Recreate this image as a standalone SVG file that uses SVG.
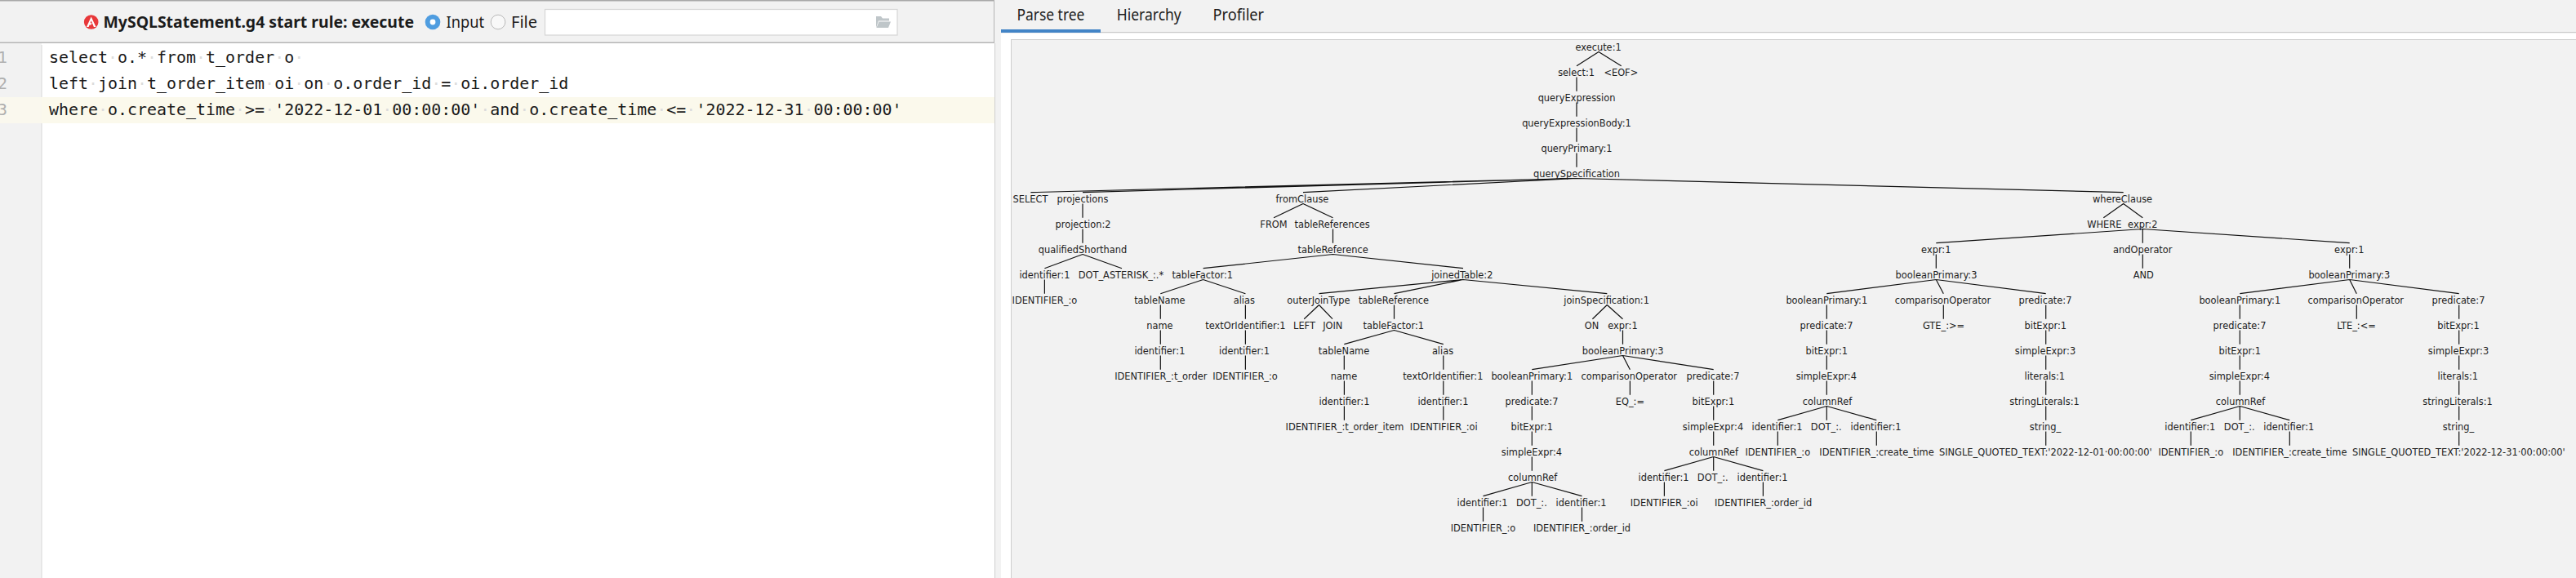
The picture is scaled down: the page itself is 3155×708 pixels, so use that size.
<svg xmlns="http://www.w3.org/2000/svg" width="3155" height="708" viewBox="0 0 3155 708">
<style>
.t{font:11.4px "DejaVu Sans",sans-serif;fill:#1c1c1c;text-anchor:middle}
.c path{stroke:#111;stroke-width:1.2;fill:none}
.m{font:19.95px "DejaVu Sans Mono","Liberation Mono",monospace;fill:#1a1a1a}
.n{font:19.95px "DejaVu Sans Mono","Liberation Mono",monospace;fill:#b0b0b0}
.d{fill:#dcdcdc}
.u{font:20px "Noto Sans","Open Sans",sans-serif;fill:#1c1c1c}
.b{font-weight:700}
</style>
<rect width="3155" height="708" fill="#f2f2f2"/>
<g id="header">
<rect x="0" y="0" width="1218" height="1.5" fill="#a9a9a9"/>
<rect x="0" y="51.5" width="1218" height="1.5" fill="#b4b4b4"/>
<rect x="1217" y="0" width="1" height="52" fill="#b4b4b4"/>
<circle cx="111.7" cy="27" r="8.8" fill="#e8383a"/>
<path d="M111.7 20.5L106 33h2.6l1-2.4h1.9l1.2-2.3h-2.2l1.2-3 3.2 7.7h2.6z" fill="#fff"/>
<text class="u b" x="126.5" y="34" textLength="380.5" lengthAdjust="spacingAndGlyphs">MySQLStatement.g4 start rule: execute</text>
<circle cx="530" cy="27" r="9.3" fill="#4f9de0"/><circle cx="530" cy="27" r="3.4" fill="#fff"/>
<text class="u" x="546.5" y="34" textLength="46.5" lengthAdjust="spacingAndGlyphs">Input</text>
<circle cx="610" cy="27" r="8.8" fill="#f8f8f8" stroke="#b8b8b8" stroke-width="1"/>
<text class="u" x="626" y="34" textLength="32" lengthAdjust="spacingAndGlyphs">File</text>
<rect x="667.5" y="11.5" width="431.5" height="31.5" fill="#fff" stroke="#d6d6d6" stroke-width="1.2"/>
<path d="M1073 20h6l2 2.5h8v3h-13l-3 8.5zM1076.5 26.5H1091l-3 7.5h-14.5z" fill="#bfc6c9"/>
</g>
<g id="editor">
<rect x="0" y="55" width="51" height="653" fill="#f2f2f2"/>
<rect x="51" y="53" width="1167" height="655" fill="#fff"/>
<rect x="50.5" y="55" width="1" height="653" fill="#d8d8d8"/>
<rect x="1218" y="53" width="1" height="655" fill="#cfcfcf"/>
<rect x="0" y="119" width="51" height="32" fill="#faf8ee"/>
<rect x="51" y="119" width="1167" height="32" fill="#fbf9ec"/>
<text class="n" x="-3" y="77">1</text>
<text class="n" x="-3" y="109">2</text>
<text class="n" x="-3" y="141">3</text>
<text class="m" x="60" y="77">select<tspan class="d">·</tspan>o.*<tspan class="d">·</tspan>from<tspan class="d">·</tspan>t_order<tspan class="d">·</tspan>o<tspan class="d">·</tspan></text>
<text class="m" x="60" y="109">left<tspan class="d">·</tspan>join<tspan class="d">·</tspan>t_order_item<tspan class="d">·</tspan>oi<tspan class="d">·</tspan>on<tspan class="d">·</tspan>o.order_id<tspan class="d">·</tspan>=<tspan class="d">·</tspan>oi.order_id</text>
<text class="m" x="60" y="141">where<tspan class="d">·</tspan>o.create_time<tspan class="d">·</tspan>&gt;=<tspan class="d">·</tspan>'2022-12-01<tspan class="d">·</tspan>00:00:00'<tspan class="d">·</tspan>and<tspan class="d">·</tspan>o.create_time<tspan class="d">·</tspan>&lt;=<tspan class="d">·</tspan>'2022-12-31<tspan class="d">·</tspan>00:00:00'</text>
</g>
<g id="tabs">
<rect x="1226" y="40" width="1929" height="668" fill="#fff"/>
<rect x="1226" y="39" width="1929" height="1.3" fill="#c9c9c9"/>
<rect x="1226" y="36" width="122" height="4" fill="#4284c6"/>
<text class="u" x="1245.4" y="25" textLength="83" lengthAdjust="spacingAndGlyphs">Parse tree</text>
<text class="u" x="1367.8" y="25" textLength="79" lengthAdjust="spacingAndGlyphs">Hierarchy</text>
<text class="u" x="1485.6" y="25" textLength="62.5" lengthAdjust="spacingAndGlyphs">Profiler</text>
<rect x="1238.5" y="48.5" width="1917" height="660" fill="#f2f2f2" stroke="#cfcfcf" stroke-width="1"/>
</g>
<g id="connectors" class="c">
<path d="M1958 63.5L1931 80.7M1958 63.5L1985.7 80.7"/>
<path d="M1931 94.5V111.7M1931 125.5V142.7M1931 156.5V173.7M1931 187.5V204.7"/>
<path d="M1931 218.5L1262.4 235.7M1931 218.5L1326 235.7M1931 218.5L1596 235.7M1931 218.5L2600.7 235.7"/>
<path d="M1326 249.5V266.7M1596 249.5L1560 266.7M1596 249.5L1632.5 266.7M2600.7 249.5L2576.3 266.7M2600.7 249.5L2624.3 266.7"/>
<path d="M1326 280.5V297.7M1632.5 280.5V297.7M2624.3 280.5L2371.3 297.7M2624.3 280.5V297.7M2624.3 280.5L2877.7 297.7"/>
<path d="M1326 311.5L1279.4 328.7M1326 311.5L1374 328.7M1632.5 311.5L1473.6 328.7M1632.5 311.5L1792 328.7M2371.3 311.5V328.7M2624.3 311.5V328.7M2877.7 311.5V328.7"/>
<path d="M1279.4 342.5V359.7M1473.6 342.5L1421.3 359.7M1473.6 342.5L1525.4 359.7M1792 342.5L1615.5 359.7M1792 342.5L1707.5 359.7M1792 342.5L1968.3 359.7M2371.3 342.5L2237.3 359.7M2371.3 342.5L2380.3 359.7M2371.3 342.5L2505.7 359.7M2877.7 342.5L2743.3 359.7M2877.7 342.5L2886.3 359.7M2877.7 342.5L3011.7 359.7"/>
<path d="M1421.3 373.5V390.7M1525.4 373.5V390.7M1615.5 373.5L1597.2 390.7M1615.5 373.5L1632 390.7M1707.5 373.5V390.7M1968.3 373.5L1950.4 390.7M1968.3 373.5L1987.5 390.7M2237.3 373.5V390.7M2380.3 373.5V390.7M2505.7 373.5V390.7M2743.3 373.5V390.7M2886.3 373.5V390.7M3011.7 373.5V390.7"/>
<path d="M1421.3 404.5V421.7M1525.4 404.5V421.7M1707.5 404.5L1646.3 421.7M1707.5 404.5L1767.8 421.7M1987.5 404.5V421.7M2237.3 404.5V421.7M2505.7 404.5V421.7M2743.3 404.5V421.7M3011.7 404.5V421.7"/>
<path d="M1421.3 435.5V452.7M1525.4 435.5V452.7M1646.3 435.5V452.7M1767.8 435.5V452.7M1987.5 435.5L1876.3 452.7M1987.5 435.5L1996.4 452.7M1987.5 435.5L2098.7 452.7M2237.3 435.5V452.7M2505.7 435.5V452.7M2743.3 435.5V452.7M3011.7 435.5V452.7"/>
<path d="M1646.4 466.5V483.7M1767.8 466.5V483.7M1876.3 466.5V483.7M1996.4 466.5V483.7M2098.7 466.5V483.7M2237.3 466.5V483.7M2505.7 466.5V483.7M2743.3 466.5V483.7M3011.7 466.5V483.7"/>
<path d="M1646.4 497.5V514.7M1767.8 497.5V514.7M1876.3 497.5V514.7M2098.7 497.5V514.7M2237.3 497.5L2177.3 514.7M2237.3 497.5V514.7M2237.3 497.5L2298.3 514.7M2505.7 497.5V514.7M2743.3 497.5L2683.3 514.7M2743.3 497.5V514.7M2743.3 497.5L2804.3 514.7M3011.7 497.5V514.7"/>
<path d="M1876.3 528.5V545.7M2098.7 528.5V545.7M2177.3 528.5V545.7M2298.3 528.5V545.7M2505.7 528.5V545.7M2683.3 528.5V545.7M2804.3 528.5V545.7M3011.7 528.5V545.7"/>
<path d="M1876.3 559.5V576.7M2098.7 559.5L2038.4 576.7M2098.7 559.5V576.7M2098.7 559.5L2159.4 576.7"/>
<path d="M1876.3 590.5L1816.5 607.7M1876.3 590.5V607.7M1876.3 590.5L1937.5 607.7M2038.4 590.5V607.7M2159.4 590.5V607.7"/>
<path d="M1816.5 621.5V638.7M1937.5 621.5V638.7"/>
</g>
<g id="nodes">
<g id="n1"><text class="t" x="1957.6" y="61.5">execute:1</text></g>
<g id="n2"><text class="t" x="1930.6" y="92.5">select:1</text></g>
<g id="n3"><text class="t" x="1985.3" y="92.5">&lt;EOF&gt;</text></g>
<g id="n4"><text class="t" x="1931" y="123.5">queryExpression</text></g>
<g id="n5"><text class="t" x="1931" y="154.5">queryExpressionBody:1</text></g>
<g id="n6"><text class="t" x="1931" y="185.5">queryPrimary:1</text></g>
<g id="n7"><text class="t" x="1931" y="216.5">querySpecification</text></g>
<g id="n8"><text class="t" x="1262" y="247.5">SELECT</text></g>
<g id="n9"><text class="t" x="1326" y="247.5">projections</text></g>
<g id="n10"><text class="t" x="1595" y="247.5">fromClause</text></g>
<g id="n11"><text class="t" x="2599.5" y="247.5">whereClause</text></g>
<g id="n12"><text class="t" x="1326.5" y="278.5">projection:2</text></g>
<g id="n13"><text class="t" x="1560" y="278.5">FROM</text></g>
<g id="n14"><text class="t" x="1631.6" y="278.5">tableReferences</text></g>
<g id="n15"><text class="t" x="2577.3" y="278.5">WHERE</text></g>
<g id="n16"><text class="t" x="2624.3" y="278.5">expr:2</text></g>
<g id="n17"><text class="t" x="1326" y="309.5">qualifiedShorthand</text></g>
<g id="n18"><text class="t" x="1632.7" y="309.5">tableReference</text></g>
<g id="n19"><text class="t" x="2371.3" y="309.5">expr:1</text></g>
<g id="n20"><text class="t" x="2624.3" y="309.5">andOperator</text></g>
<g id="n21"><text class="t" x="2877.3" y="309.5">expr:1</text></g>
<g id="n22"><text class="t" x="1279.4" y="340.5">identifier:1</text></g>
<g id="n23"><text class="t" x="1372.9" y="340.5">DOT_ASTERISK_:.*</text></g>
<g id="n24"><text class="t" x="1472.7" y="340.5">tableFactor:1</text></g>
<g id="n25"><text class="t" x="1790.8" y="340.5">joinedTable:2</text></g>
<g id="n26"><text class="t" x="2371.5" y="340.5">booleanPrimary:3</text></g>
<g id="n27"><text class="t" x="2625.3" y="340.5">AND</text></g>
<g id="n28"><text class="t" x="2877.3" y="340.5">booleanPrimary:3</text></g>
<g id="n29"><text class="t" x="1279.4" y="371.5">IDENTIFIER_:o</text></g>
<g id="n30"><text class="t" x="1420.4" y="371.5">tableName</text></g>
<g id="n31"><text class="t" x="1523.8" y="371.5">alias</text></g>
<g id="n32"><text class="t" x="1614.9" y="371.5">outerJoinType</text></g>
<g id="n33"><text class="t" x="1707" y="371.5">tableReference</text></g>
<g id="n34"><text class="t" x="1967.6" y="371.5">joinSpecification:1</text></g>
<g id="n35"><text class="t" x="2237.3" y="371.5">booleanPrimary:1</text></g>
<g id="n36"><text class="t" x="2379.5" y="371.5">comparisonOperator</text></g>
<g id="n37"><text class="t" x="2505" y="371.5">predicate:7</text></g>
<g id="n38"><text class="t" x="2743.3" y="371.5">booleanPrimary:1</text></g>
<g id="n39"><text class="t" x="2885.3" y="371.5">comparisonOperator</text></g>
<g id="n40"><text class="t" x="3011" y="371.5">predicate:7</text></g>
<g id="n41"><text class="t" x="1420.4" y="402.5">name</text></g>
<g id="n42"><text class="t" x="1525.4" y="402.5">textOrIdentifier:1</text></g>
<g id="n43"><text class="t" x="1597.5" y="402.5">LEFT</text></g>
<g id="n44"><text class="t" x="1632.3" y="402.5">JOIN</text></g>
<g id="n45"><text class="t" x="1706.8" y="402.5">tableFactor:1</text></g>
<g id="n46"><text class="t" x="1949.6" y="402.5">ON</text></g>
<g id="n47"><text class="t" x="1987.5" y="402.5">expr:1</text></g>
<g id="n48"><text class="t" x="2237" y="402.5">predicate:7</text></g>
<g id="n49"><text class="t" x="2380.5" y="402.5">GTE_:&gt;=</text></g>
<g id="n50"><text class="t" x="2505.3" y="402.5">bitExpr:1</text></g>
<g id="n51"><text class="t" x="2743" y="402.5">predicate:7</text></g>
<g id="n52"><text class="t" x="2886" y="402.5">LTE_:&lt;=</text></g>
<g id="n53"><text class="t" x="3011" y="402.5">bitExpr:1</text></g>
<g id="n54"><text class="t" x="1420.4" y="433.5">identifier:1</text></g>
<g id="n55"><text class="t" x="1524" y="433.5">identifier:1</text></g>
<g id="n56"><text class="t" x="1646" y="433.5">tableName</text></g>
<g id="n57"><text class="t" x="1767" y="433.5">alias</text></g>
<g id="n58"><text class="t" x="1987.7" y="433.5">booleanPrimary:3</text></g>
<g id="n59"><text class="t" x="2237.3" y="433.5">bitExpr:1</text></g>
<g id="n60"><text class="t" x="2505" y="433.5">simpleExpr:3</text></g>
<g id="n61"><text class="t" x="2743.3" y="433.5">bitExpr:1</text></g>
<g id="n62"><text class="t" x="3011" y="433.5">simpleExpr:3</text></g>
<g id="n63"><text class="t" x="1421.8" y="464.5">IDENTIFIER_:t_order</text></g>
<g id="n64"><text class="t" x="1525" y="464.5">IDENTIFIER_:o</text></g>
<g id="n65"><text class="t" x="1646" y="464.5">name</text></g>
<g id="n66"><text class="t" x="1767.3" y="464.5">textOrIdentifier:1</text></g>
<g id="n67"><text class="t" x="1876.3" y="464.5">booleanPrimary:1</text></g>
<g id="n68"><text class="t" x="1995.3" y="464.5">comparisonOperator</text></g>
<g id="n69"><text class="t" x="2098" y="464.5">predicate:7</text></g>
<g id="n70"><text class="t" x="2236.8" y="464.5">simpleExpr:4</text></g>
<g id="n71"><text class="t" x="2504.3" y="464.5">literals:1</text></g>
<g id="n72"><text class="t" x="2742.8" y="464.5">simpleExpr:4</text></g>
<g id="n73"><text class="t" x="3010.3" y="464.5">literals:1</text></g>
<g id="n74"><text class="t" x="1646.4" y="495.5">identifier:1</text></g>
<g id="n75"><text class="t" x="1767.4" y="495.5">identifier:1</text></g>
<g id="n76"><text class="t" x="1876" y="495.5">predicate:7</text></g>
<g id="n77"><text class="t" x="1996.4" y="495.5">EQ_:=</text></g>
<g id="n78"><text class="t" x="2098.4" y="495.5">bitExpr:1</text></g>
<g id="n79"><text class="t" x="2238" y="495.5">columnRef</text></g>
<g id="n80"><text class="t" x="2504" y="495.5">stringLiterals:1</text></g>
<g id="n81"><text class="t" x="2744" y="495.5">columnRef</text></g>
<g id="n82"><text class="t" x="3010" y="495.5">stringLiterals:1</text></g>
<g id="n83"><text class="t" x="1646.9" y="526.5">IDENTIFIER_:t_order_item</text></g>
<g id="n84"><text class="t" x="1768.3" y="526.5">IDENTIFIER_:oi</text></g>
<g id="n85"><text class="t" x="1876.3" y="526.5">bitExpr:1</text></g>
<g id="n86"><text class="t" x="2098" y="526.5">simpleExpr:4</text></g>
<g id="n87"><text class="t" x="2176.5" y="526.5">identifier:1</text></g>
<g id="n88"><text class="t" x="2236.8" y="526.5">DOT_:.</text></g>
<g id="n89"><text class="t" x="2297.5" y="526.5">identifier:1</text></g>
<g id="n90"><text class="t" x="2505" y="526.5">string_</text></g>
<g id="n91"><text class="t" x="2682.3" y="526.5">identifier:1</text></g>
<g id="n92"><text class="t" x="2742.8" y="526.5">DOT_:.</text></g>
<g id="n93"><text class="t" x="2803.3" y="526.5">identifier:1</text></g>
<g id="n94"><text class="t" x="3011" y="526.5">string_</text></g>
<g id="n95"><text class="t" x="1875.9" y="557.5">simpleExpr:4</text></g>
<g id="n96"><text class="t" x="2098.9" y="557.5">columnRef</text></g>
<g id="n97"><text class="t" x="2177.3" y="557.5">IDENTIFIER_:o</text></g>
<g id="n98"><text class="t" x="2298.5" y="557.5">IDENTIFIER_:create_time</text></g>
<g id="n99"><text class="t" x="2505.3" y="557.5">SINGLE_QUOTED_TEXT:'2022-12-01·00:00:00'</text></g>
<g id="n100"><text class="t" x="2683.3" y="557.5">IDENTIFIER_:o</text></g>
<g id="n101"><text class="t" x="2804.3" y="557.5">IDENTIFIER_:create_time</text></g>
<g id="n102"><text class="t" x="3011.3" y="557.5">SINGLE_QUOTED_TEXT:'2022-12-31·00:00:00'</text></g>
<g id="n103"><text class="t" x="1877.2" y="588.5">columnRef</text></g>
<g id="n104"><text class="t" x="2037.5" y="588.5">identifier:1</text></g>
<g id="n105"><text class="t" x="2097.8" y="588.5">DOT_:.</text></g>
<g id="n106"><text class="t" x="2158.5" y="588.5">identifier:1</text></g>
<g id="n107"><text class="t" x="1815.6" y="619.5">identifier:1</text></g>
<g id="n108"><text class="t" x="1875.9" y="619.5">DOT_:.</text></g>
<g id="n109"><text class="t" x="1936.6" y="619.5">identifier:1</text></g>
<g id="n110"><text class="t" x="2038.2" y="619.5">IDENTIFIER_:oi</text></g>
<g id="n111"><text class="t" x="2159.6" y="619.5">IDENTIFIER_:order_id</text></g>
<g id="n112"><text class="t" x="1816.5" y="650.5">IDENTIFIER_:o</text></g>
<g id="n113"><text class="t" x="1937.5" y="650.5">IDENTIFIER_:order_id</text></g>
</g>
</svg>
